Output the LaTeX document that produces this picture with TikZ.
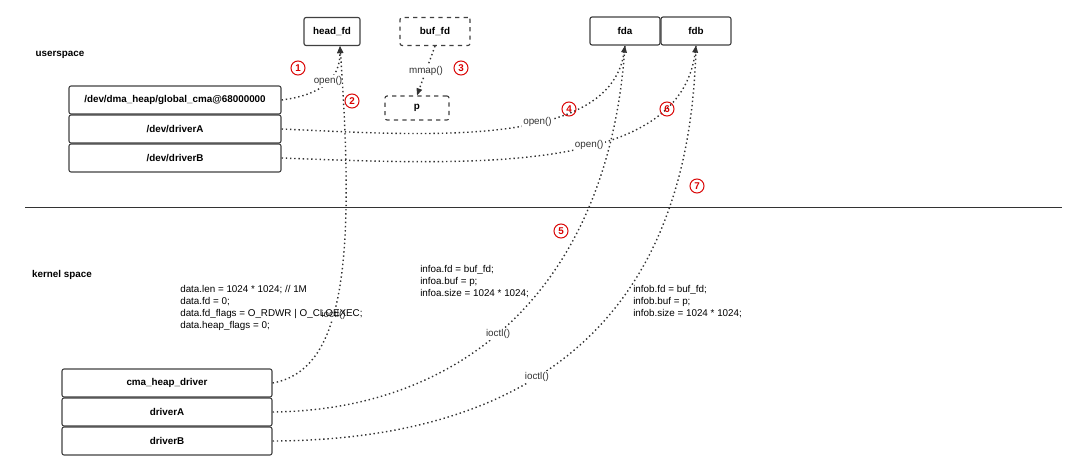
\documentclass[tikz,border=0pt]{standalone}
\usepackage{fontspec}
\setmainfont{Liberation Sans}
\usetikzlibrary{arrows.meta,positioning}
\tikzset{
  box/.style={draw=black!75,thick,rounded corners=1.5pt,minimum height=0.7cm,font=\fontsize{7}{8}\selectfont\bfseries,inner sep=0pt},
  dbox/.style={box,dashed},
  link/.style={dotted,line width=1pt,black!80},
  tip/.style={-{Triangle[length=5pt,width=4pt]}},
  lbl/.style={fill=white,inner sep=1pt,font=\fontsize{7}{8}\selectfont},
  num/.style={circle,draw=red!85!black,text=red!85!black,line width=0.7pt,inner sep=0pt,minimum size=10pt,font=\fontsize{7}{7}\selectfont\bfseries},
  code/.style={align=left,anchor=north west,inner sep=0pt,font=\fontsize{7}{8.5}\selectfont}
}
\begin{document}
\begin{tikzpicture}[x=0.025cm,y=-0.025cm]
  \useasboundingbox (0,0) rectangle (1080,473);
  % user space
  \node[box,minimum width=1.4cm] (headfd) at (332,31.5) {head\_fd};
  \node[dbox,minimum width=1.75cm] (buffd) at (435,31.5) {buf\_fd};
  \node[dbox,minimum width=1.6cm,minimum height=0.6cm] (p) at (417,108) {p};
  \node[box,minimum width=1.75cm] (fda) at (625,31) {fda};
  \node[box,minimum width=1.75cm] (fdb) at (696,31) {fdb};
  \node[box,minimum width=5.3cm] (dmaheap) at (175,100) {/dev/dma\_heap/global\_cma@68000000};
  \node[box,minimum width=5.3cm] (udrvA) at (175,129) {/dev/driverA};
  \node[box,minimum width=5.3cm] (udrvB) at (175,158) {/dev/driverB};
  % kernel space
  \node[box,minimum width=5.25cm] (cmadrv) at (167,383) {cma\_heap\_driver};
  \node[box,minimum width=5.25cm] (kdrvA) at (167,412) {driverA};
  \node[box,minimum width=5.25cm] (kdrvB) at (167,441) {driverB};
  \draw[black!80] (25,207) -- (1062,207);
  \node[font=\fontsize{7}{8}\selectfont\bfseries] at (60,55) {userspace};
  \node[font=\fontsize{7}{8}\selectfont\bfseries] at (62,275) {kernel space};
  % connectors
  \draw[link,tip] (dmaheap.east) .. controls (320,95) and (340,80) .. node[lbl,pos=0.55]{open()} ([xshift=0.2cm]headfd.south);
  \draw[link,tip] (cmadrv.east) .. controls (345,370) and (355,260) .. node[lbl,pos=0.42]{ioctl()} ([xshift=0.2cm]headfd.south);
  \draw[link,tip] (buffd.south) -- node[lbl]{mmap()} (p.north);
  \draw[link,tip] (udrvA.east) .. controls (420,135) and (610,150) .. node[lbl,pos=0.6]{open()} (fda.south);
  \draw[link,tip] (udrvB.east) .. controls (470,165) and (680,175) .. node[lbl,pos=0.58]{open()} (fdb.south);
  \draw[link] (kdrvA.east) .. controls (470,410) and (610,280) .. node[lbl,pos=0.45]{ioctl()} (fda.south);
  \draw[link] (kdrvB.east) .. controls (520,440) and (690,330) .. node[lbl,pos=0.42]{ioctl()} (fdb.south);
  % steps
  \node[num] at (298,68) {1};
  \node[num] at (352,101) {2};
  \node[num] at (461,68) {3};
  \node[num] at (569,109) {4};
  \node[num] at (561,231) {5};
  \node[num] at (667,109) {6};
  \node[num] at (697,186) {7};
  % code
  \node[code] (datacode) at (180,285) {data.len = 1024 * 1024; // 1M\\data.fd = 0;\\data.fd\_flags = O\_RDWR | O\_CLOEXEC;\\data.heap\_flags = 0;};
  \node[code] (infoacode) at (420,265) {infoa.fd = buf\_fd;\\infoa.buf = p;\\infoa.size = 1024 * 1024;};
  \node[code] (infobcode) at (633,285) {infob.fd = buf\_fd;\\infob.buf = p;\\infob.size = 1024 * 1024;};
\end{tikzpicture}
\end{document}
